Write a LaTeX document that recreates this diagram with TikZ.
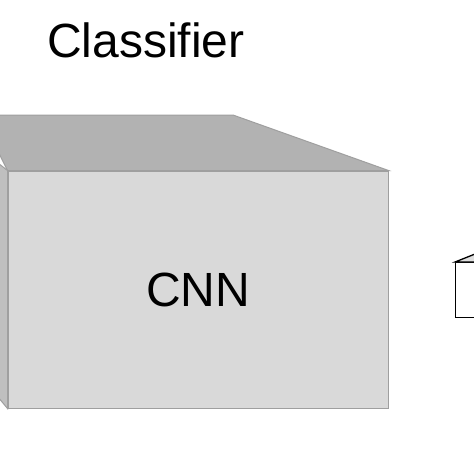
\documentclass[tikz,border=0pt]{standalone}
\usepackage{fontspec}
\setmainfont{Liberation Sans}
\usetikzlibrary{calc}
\begin{document}
\begin{tikzpicture}[x=1pt,y=-1pt]

% definitions
\tikzstyle{front} = [rectangle, minimum width=380pt, minimum height=237pt, inner sep=0pt, text centered, draw=gray!75, line width=1pt, fill=gray!30, font=\fontsize{48}{48}\selectfont]
\tikzstyle{topface} = [draw=gray!75, line width=1pt, fill=gray!60]
\tikzstyle{sideface} = [draw=gray!75, line width=1pt, fill=gray!50]
\tikzstyle{smallfront} = [rectangle, minimum width=60pt, minimum height=55pt, inner sep=0pt, draw=black, line width=1.3pt, fill=white]
\tikzstyle{smalltop} = [draw=black, line width=1.3pt, fill=gray!25]

\clip (0,0) rectangle (474,474);
\fill[white] (0,0) rectangle (474,474);

% the title
\node (title) [anchor=base west, inner sep=0pt, font=\fontsize{48}{48}\selectfont] at (47,57) {Classifier};

% the big box
\node (cnn) [front] at (198,289.5) {CNN};
\coordinate (backleft) at (-20,115);
\coordinate (backright) at (233,115);
\draw [topface] (cnn.north west) -- (backleft) -- (backright) -- (cnn.north east) -- cycle;
\draw [sideface] (cnn.north west) -- (-2,163) -- (-2,397) -- (cnn.south west) -- cycle;
\node (cnn2) [front, fill=none] at (198,289.5) {};

% the small box
\node (out) [smallfront, anchor=north west] at (455,262) {};
\coordinate (outback) at (475,254);
\draw [smalltop] (out.north west) -- (outback) -- ($(outback)+(60,0)$) -- (out.north east) -- cycle;

\end{tikzpicture}
\end{document}
